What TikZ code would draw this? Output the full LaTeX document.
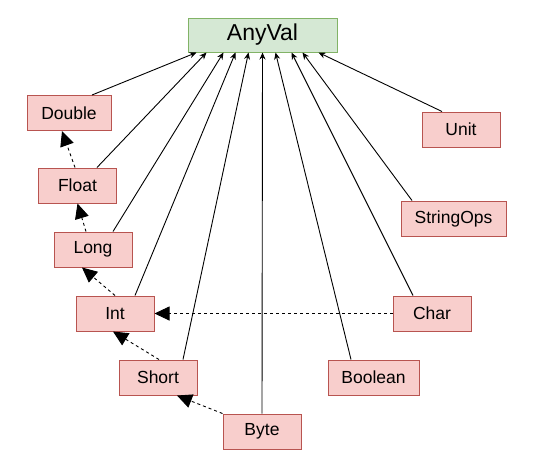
\documentclass[tikz,border=0pt]{standalone}
\usepackage{fontspec}
\setmainfont{Liberation Sans}
\usetikzlibrary{arrows.meta, positioning}
\definecolor{ValRed}{HTML}{F8CECC}
\definecolor{ValRedLine}{HTML}{B85450}
\definecolor{RootGreen}{HTML}{D5E8D4}
\definecolor{RootGreenLine}{HTML}{82B366}

\begin{document}
\begin{tikzpicture}[x=1pt, y=-1pt,
    valbox/.style={draw=ValRedLine, fill=ValRed, line width=1pt, minimum width=78pt, minimum height=35pt, inner sep=2pt, font=\fontsize{17.5}{20}\selectfont},
    rootbox/.style={draw=RootGreenLine, fill=RootGreen, line width=1pt, minimum width=149pt, minimum height=34pt, inner sep=2pt, font=\fontsize{23}{26}\selectfont},
    subtype/.style={-{Stealth[length=7pt, width=6pt]}, line width=0.9pt},
    widens/.style={-{Triangle[length=15pt, width=14pt]}, line width=0.9pt, dash pattern=on 3pt off 3pt}]
  \useasboundingbox (0,0) rectangle (545,467);

  % root of the value types
  \node[rootbox] (anyval) at (262.5,35) {AnyVal};

  % numeric chain on the left
  \node[valbox, minimum width=84pt] (double) at (69,113) {Double};
  \node[valbox] (float) at (77.5,185.5) {Float};
  \node[valbox] (long) at (93,249.5) {Long};
  \node[valbox] (int) at (115,313.5) {Int};
  \node[valbox] (short) at (158,377.5) {Short};
  \node[valbox] (byte) at (262,431.5) {Byte};

  % the others on the right
  \node[valbox, minimum width=91pt] (boolean) at (373.5,377.5) {Boolean};
  \node[valbox] (char) at (432,313.5) {Char};
  \node[valbox, minimum width=105pt] (stringops) at (453.5,218.5) {StringOps};
  \node[valbox] (unit) at (461,129.5) {Unit};

  % every type extends AnyVal
  \draw[subtype] ([xshift=23pt]double.north) -- ([xshift=9pt]anyval.south west);
  \draw[subtype] ([xshift=19.5pt]float.north) -- ([xshift=19pt]anyval.south west);
  \draw[subtype] ([xshift=20pt]long.north) -- ([xshift=36pt]anyval.south west);
  \draw[subtype] ([xshift=20pt]int.north) -- ([xshift=48pt]anyval.south west);
  \draw[subtype] ([xshift=25pt]short.north) -- ([xshift=61pt]anyval.south west);
  \draw[subtype] (byte.north) -- (anyval.south);
  \draw[subtype] ([xshift=-22.5pt]boolean.north) -- ([xshift=88pt]anyval.south west);
  \draw[subtype] ([xshift=-19pt]char.north) -- ([xshift=104pt]anyval.south west);
  \draw[subtype] ([xshift=-41.5pt]stringops.north) -- ([xshift=115pt]anyval.south west);
  \draw[subtype] ([xshift=-19pt]unit.north) -- ([xshift=131pt]anyval.south west);

  % implicit widening conversions
  \draw[widens] ([xshift=-2.5pt]float.north) -- ([xshift=-7pt]double.south);
  \draw[widens] ([xshift=-7pt]long.north) -- (float.south);
  \draw[widens] (int.north) -- ([xshift=-11pt]long.south);
  \draw[widens] ([xshift=1pt]short.north) -- ([xshift=-2pt]int.south);
  \draw[widens] (byte.north west) -- ([xshift=19pt]short.south);
  \draw[widens] (char.west) -- (int.east);
\end{tikzpicture}
\end{document}
